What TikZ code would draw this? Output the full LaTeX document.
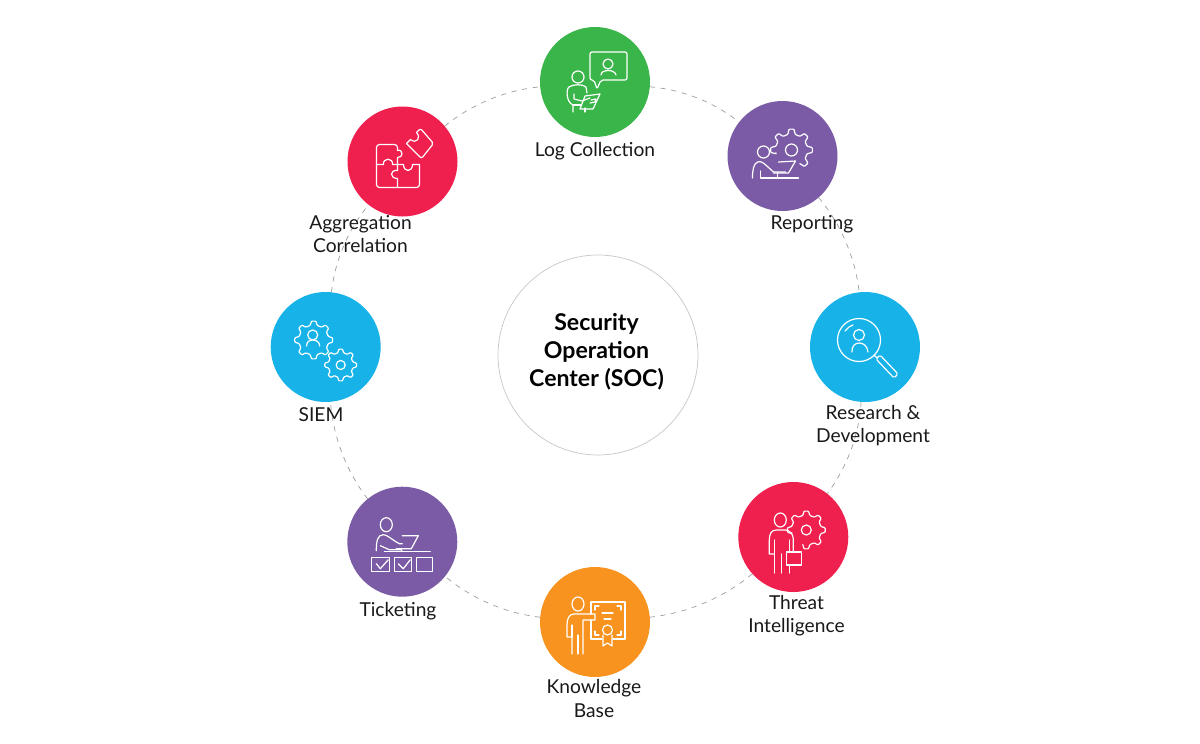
\documentclass[tikz,border=0pt]{standalone}
\usepackage{fontspec}
\setmainfont{Lato}
\definecolor{cgreen}{HTML}{3AB54A}
\definecolor{cpurple}{HTML}{7B5BA6}
\definecolor{cblue}{HTML}{17B3E8}
\definecolor{cred}{HTML}{EF1F4E}
\definecolor{corange}{HTML}{F7931E}
\tikzset{
  disc/.style={circle,minimum size=55pt,inner sep=0pt,outer sep=0pt,fill=#1},
  hub/.style={circle,minimum size=100pt,inner sep=0pt,outer sep=0pt,draw=black!22,line width=.35pt,fill=white},
  lab/.style={align=center,font=\fontsize{9.6}{11.6}\selectfont,text=black!90,inner sep=0pt},
  ringline/.style={draw=black!38,line width=.35pt,dash pattern=on 2.6pt off 2.8pt},
  ic/.style={draw=white,line width=.6pt,line cap=round,line join=round},
}
\newcommand\gearline[7]{% cx cy rout rin n first last
  \pgfmathsetmacro\gs{360/#5}
  \draw[ic,shift={(#1,#2)},rounded corners=.4pt] ({#6*\gs-.30*\gs}:#4)
    \foreach \k in {#6,...,#7}{
      -- ({\k*\gs-.30*\gs}:#4) -- ({\k*\gs-.15*\gs}:#3) -- ({\k*\gs+.15*\gs}:#3) -- ({\k*\gs+.30*\gs}:#4)};
}
\newcommand\gearfull[5]{% cx cy rout rin n
  \pgfmathsetmacro\gs{360/#5}
  \draw[ic,shift={(#1,#2)},rounded corners=.4pt] ({-.30*\gs}:#4)
    \foreach \k in {0,...,\numexpr#5-1\relax}{
      -- ({\k*\gs-.30*\gs}:#4) -- ({\k*\gs-.15*\gs}:#3) -- ({\k*\gs+.15*\gs}:#3) -- ({\k*\gs+.30*\gs}:#4)} -- cycle;
}
\newcommand\ringlink[4]{\draw[ringline] (#1.#3) to[bend left=16.65,looseness=.87] (#2.#4);}
\begin{document}
\begin{tikzpicture}[x=.5pt,y=-.5pt]
\useasboundingbox (0,0) rectangle (1200,744);
\fill[white] (0,0) rectangle (1200,744);
% discs
\node[disc=cgreen]  (log)  at (595,82) {};
\node[disc=cpurple] (rep)  at (782.5,156) {};
\node[disc=cblue]   (res)  at (865,347) {};
\node[disc=cred]    (thr)  at (793.3,537) {};
\node[disc=corange] (kno)  at (595,622) {};
\node[disc=cpurple] (tic)  at (402.3,541.7) {};
\node[disc=cblue]   (sie)  at (325.7,347) {};
\node[disc=cred]    (agg)  at (402.5,161.5) {};
\node[hub] (soc) at (598,355) {};
% ring
\ringlink{log}{rep}{-5.85}{142.15}
\ringlink{rep}{res}{-49.55}{96.85}
\ringlink{res}{thr}{-94.85}{52.85}
\ringlink{thr}{kno}{-138.85}{5.85}
\ringlink{kno}{tic}{-185.85}{-39.65}
\ringlink{tic}{sie}{-231.35}{-85.15}
\ringlink{sie}{agg}{-276.85}{-128.85}
\ringlink{agg}{log}{-320.55}{185.85}
% labels
\node[lab] (llog) at (595,151) {Log Collection};
\node[lab] (lrep) at (812,224) {Reporting};
\node[lab] (lres) at (873,425.5) {Research \&\\Development};
\node[lab] (lthr) at (796.5,616) {Threat\\Intelligence};
\node[lab] (lkno) at (594,698.5) {Knowledge\\Base};
\node[lab] (ltic) at (398,611) {Ticketing};
\node[lab] (lsie) at (321,414.5) {SIEM};
\node[lab] (lagg) at (360.5,234) {Aggregation\\Correlation};
\node[align=center,inner sep=0pt,font=\fontsize{11.55}{14.1}\selectfont\bfseries] (lsoc) at (596.5,351.5) {Security\\Operation\\Center (SOC)};
% Log Collection icon
\begin{scope}[shift={(log.center)}]
  \draw[ic,rounded corners=1pt] (-5,-6) -- (-5,-30) -- (32,-30) -- (32,-2) -- (6,-2) -- (2,7) -- (-1,-2) -- (-5,-2) -- cycle;
  \draw[ic] (13,-18) circle (5);
  \draw[ic] (6,-7) .. controls (6,-13) and (20,-13) .. (21,-7);
  \draw[ic] (-17,-5) circle (6);
  \draw[ic] (-22,30) -- (-22,23) .. controls (-29,20) and (-29,7) .. (-26,5) .. controls (-22,2) and (-12,2) .. (-9,5) -- (-8,11);
  \draw[ic] (-21,12) -- (-21,17) -- (-13,19) -- (-5,16);
  \draw[ic] (-22,23) -- (-14,23);
  \draw[ic] (-10,30) -- (-10,26);
  \draw[ic] (-10,14) -- (5,12) -- (-2,27) -- (-15,27) -- cycle;
  \draw[ic] (-4,18) -- (1,17) -- (0,20) -- (-5,21);
\end{scope}
% Reporting icon
\begin{scope}[shift={(rep.center)}]
  \gearline{9}{-6}{21}{16}{8}{4}{9}
  \draw[ic] (9,-6) circle (6);
  \draw[ic] (-19,-4) circle (6);
  \draw[ic] (-30,22) .. controls (-30,14) and (-29,8) .. (-25,6) .. controls (-21,4) and (-18,8) .. (-9,16) -- (3,16);
  \draw[ic] (-22,15) -- (-22,22) -- (16,22);
  \draw[ic] (-4,6) -- (13,5) -- (6,17) -- (-9,17);
  \draw[ic] (-5,17) -- (-5,22);
\end{scope}
% Research icon
\begin{scope}[shift={(res.center)}]
  \draw[ic] (-6,-7) circle (21.5);
  \draw[ic] (-20,-16) .. controls (-18,-19) and (-15,-21) .. (-12,-22);
  \draw[ic] (-6,-12) circle (5.5);
  \draw[ic] (-13,5) .. controls (-14,-7) and (2,-7) .. (3,5);
  \draw[ic] (9,8) -- (12,11);
  \draw[ic,rounded corners=.8pt] (11,12) -- (15,8) -- (33,27) -- (29,31) -- cycle;
\end{scope}
% Threat icon
\begin{scope}[shift={(thr.center)}]
  \gearline{13}{-7}{19}{15}{8}{4}{10}
  \draw[ic] (13,-7) circle (5);
  \draw[ic] (-13,-17) ellipse (6 and 7);
  \draw[ic] (-19,17) -- (-24,17) -- (-24,3) .. controls (-24,-3) and (-22,-7) .. (-17,-7) -- (-8,-7) .. controls (-4,-7) and (0,-3) .. (0,2) -- (0,15);
  \draw[ic] (-19,3) -- (-19,36);
  \draw[ic] (-12,17) -- (-12,36);
  \draw[ic] (-4,3) -- (-4,15);
  \draw[ic] (-4,28) -- (-4,36);
  \draw[ic] (-7,15) rectangle (8,28);
\end{scope}
% Knowledge icon
\begin{scope}[shift={(kno.center)}]
  \draw[ic] (-17,-18) ellipse (6 and 7);
  \draw[ic] (-23,32) -- (-23,15) -- (-28,15) -- (-28,3) .. controls (-28,-3) and (-26,-8) .. (-21,-8) -- (0,-8) -- (0,-2) -- (-12,-2) -- (-12,32);
  \draw[ic] (-23,3) -- (-23,15);
  \draw[ic] (-17,13) -- (-17,32);
  \draw[ic] (-4,-8) -- (-4,-20) -- (30,-20) -- (30,17) -- (18,17);
  \draw[ic] (7,17) -- (-4,17) -- (-4,-2);
  \draw[ic] (0,-12) -- (0,-16) -- (4,-16);
  \draw[ic] (22,-16) -- (26,-16) -- (26,-12);
  \draw[ic] (0,9) -- (0,13) -- (4,13);
  \draw[ic] (22,13) -- (26,13) -- (26,9);
  \draw[ic] (7,-9) -- (18,-9);
  \draw[ic] (9,-3) -- (16,-3);
  \draw[ic] (12.5,8) circle (5);
  \draw[ic] (8,13) -- (8,24) -- (12.5,21) -- (17,24) -- (17,13);
\end{scope}
% Ticketing icon
\begin{scope}[shift={(tic.center)}]
  \draw[ic] (-16,-17) ellipse (6 and 7);
  \draw[ic] (-26,9) .. controls (-26,0) and (-25,-7) .. (-19,-7) .. controls (-15,-7) and (-12,-3) .. (-3,2) -- (0,2);
  \draw[ic] (-22,4) -- (-13,8) -- (-1,8) -- (0,10);
  \draw[ic] (0,-6) -- (16,-6) -- (9,7) -- (-6,7);
  \draw[ic] (-18,10) -- (28,10);
  \draw[ic] (-31,16) rectangle (-13,30);
  \draw[ic] (-8,16) rectangle (9,30);
  \draw[ic] (14,16) rectangle (30,30);
  \draw[ic] (-26,22) -- (-22,27) -- (-14,18);
  \draw[ic] (-4,22) -- (1,27) -- (8,18);
\end{scope}
% SIEM icon
\begin{scope}[shift={(sie.center)}]
  \gearfull{-12}{-7}{19}{15}{8}
  \draw[ic] (-13,-12) circle (5);
  \draw[ic] (-19,-1) .. controls (-20,-9) and (-6,-9) .. (-6,-1);
  \gearfull{15}{18}{16}{12.5}{8}
  \draw[ic] (15,18) circle (4.5);
\end{scope}
% Aggregation icon
\begin{scope}[shift={(agg.center)}]
  \draw[ic,rounded corners=1.5pt] (-26,3) -- (-26,-17) -- (-5,-17) -- (-5,-11);
  \draw[ic] (-5,-11) .. controls (1,-13) and (1,-3) .. (-5,-4) -- (-5,3);
  \draw[ic] (-26,3) -- (-19,3) .. controls (-20,-4) and (-9,-4) .. (-10,3) -- (1,3) .. controls (1,11) and (10,11) .. (10,3) -- (17,3);
  \draw[ic] (-5,3) -- (-5,9) .. controls (-13,8) and (-13,17) .. (-5,17) -- (-5,26);
  \draw[ic,rounded corners=1.5pt] (-26,3) -- (-26,26) -- (17,26) -- (17,3);
  \draw[ic,rounded corners=1pt] (4,-18) -- (8,-22);
  \draw[ic] (8,-22) .. controls (14,-17) and (19,-24) .. (14,-29);
  \draw[ic,rounded corners=1pt] (14,-29) -- (18,-33) -- (31,-18) -- (19,-3) -- (4,-18);
\end{scope}
\end{tikzpicture}
\end{document}
